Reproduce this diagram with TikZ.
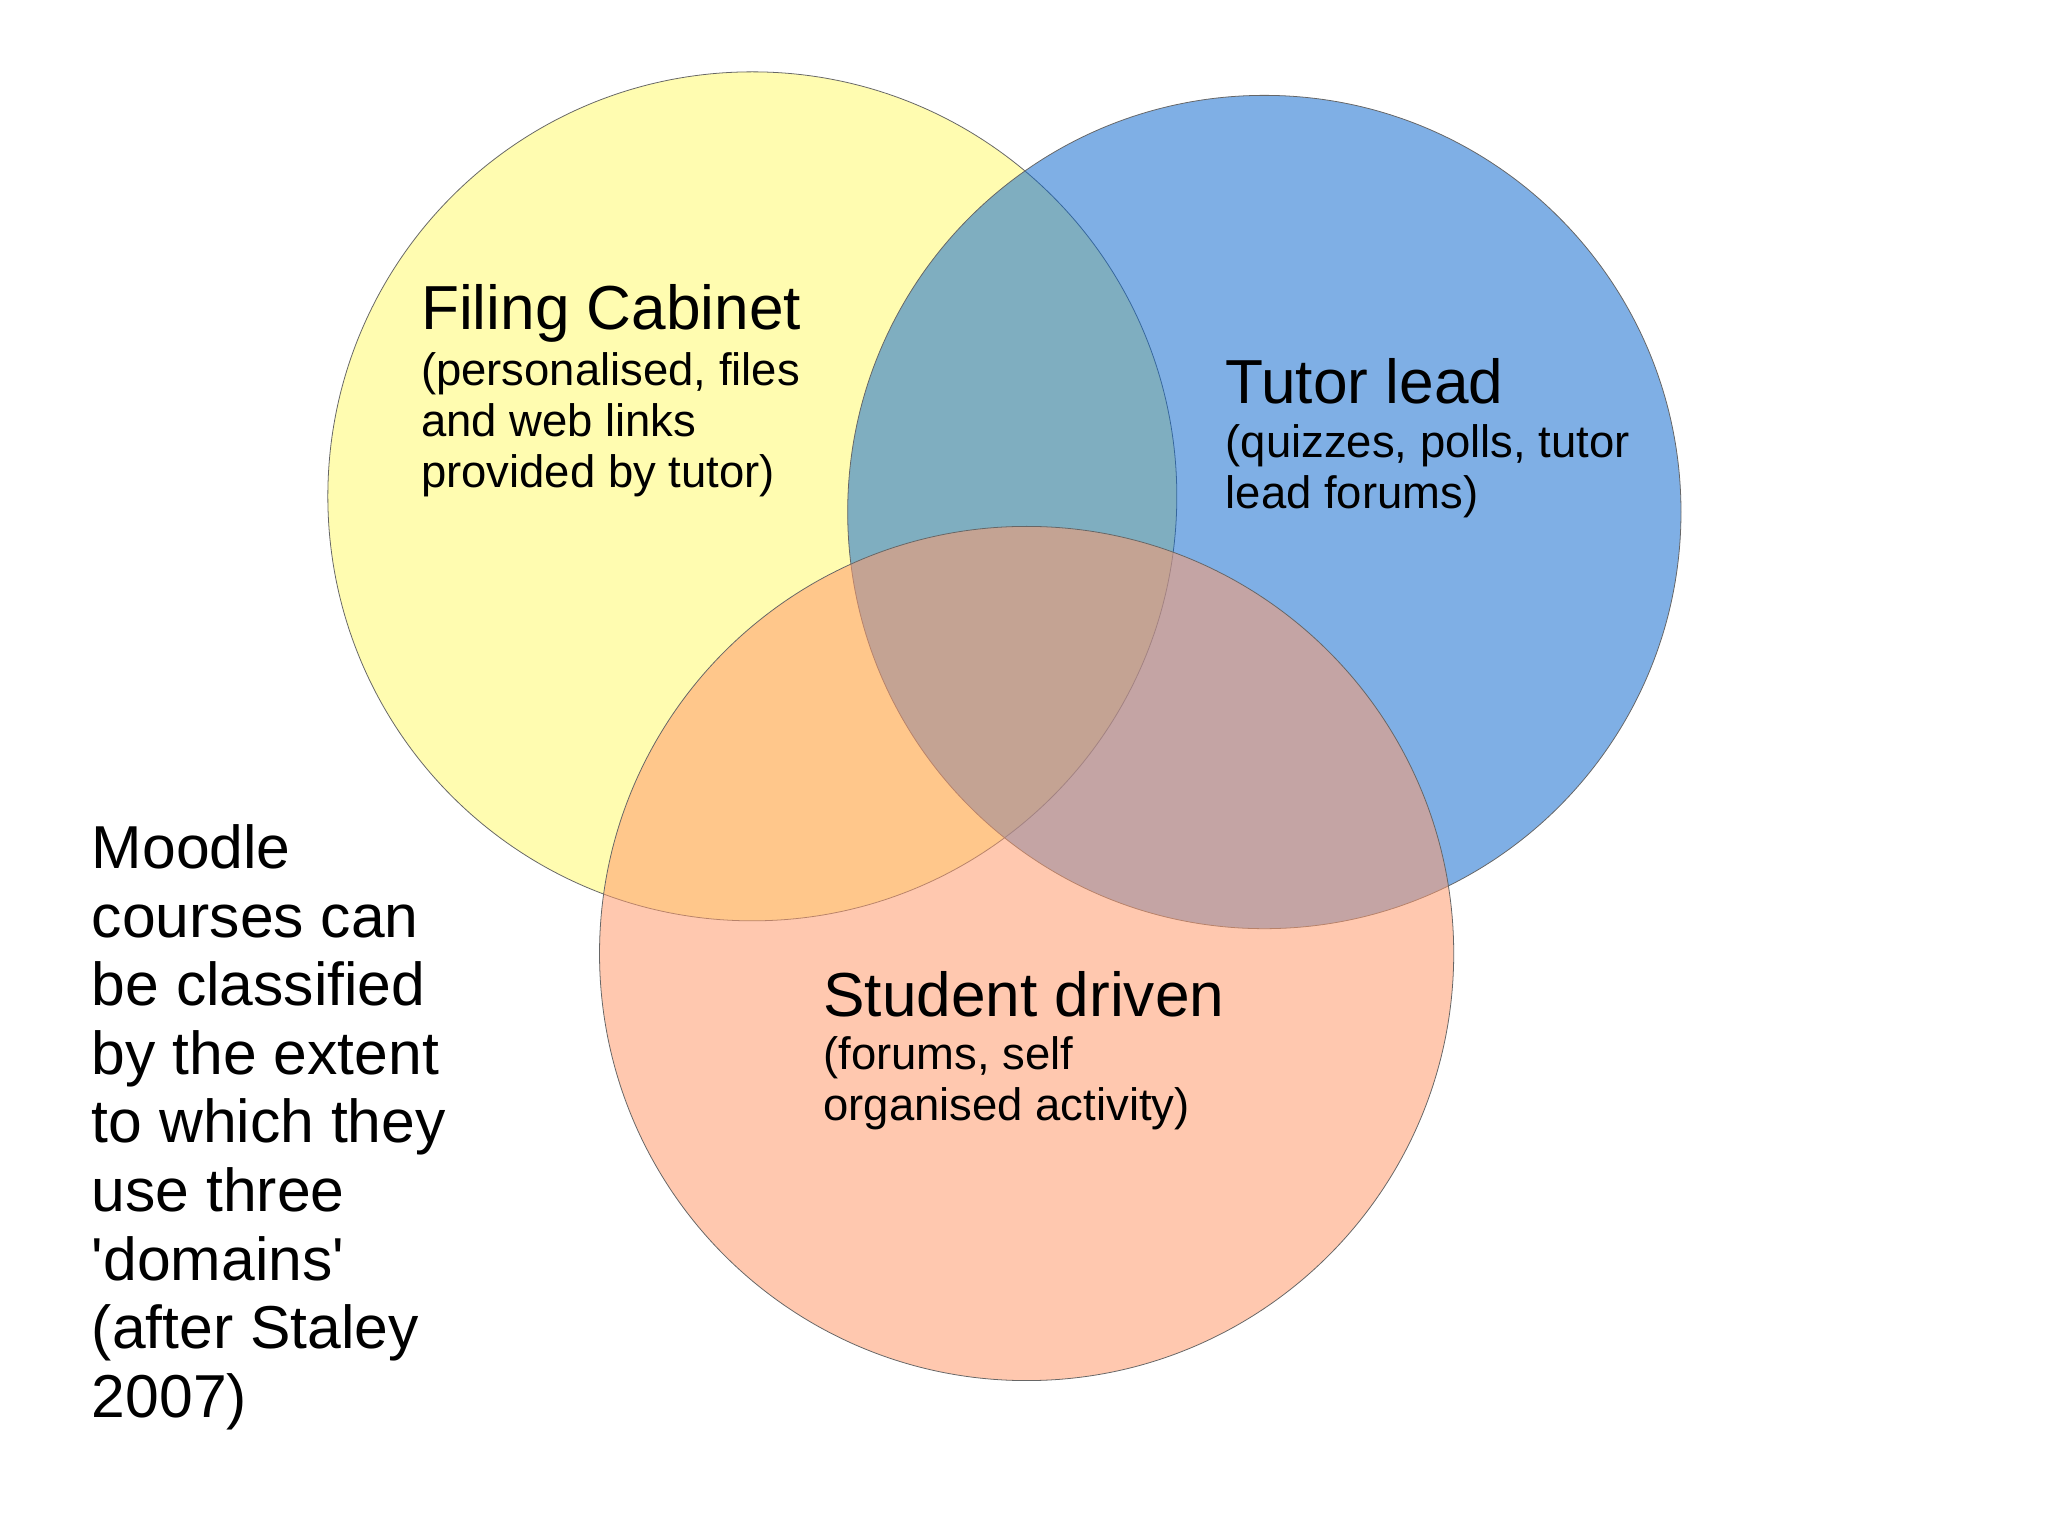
\documentclass[tikz,border=0pt]{standalone}
\usepackage{fontspec}
\setmainfont{Liberation Sans}
\definecolor{cabinet}{RGB}{255,252,176}
\definecolor{tutor}{RGB}{11,103,207}
\definecolor{student}{RGB}{255,155,109}
\tikzset{
  set/.style={draw=black!60, line width=0.3pt},
  head/.style={anchor=base west, inner sep=0pt, font=\fontsize{23.8}{26}\selectfont},
  sub/.style={anchor=base west, inner sep=0pt, align=left, font=\fontsize{17.4}{19.5}\selectfont},
  note/.style={anchor=base west, inner sep=0pt, align=left, font=\fontsize{23.2}{26.25}\selectfont}
}
\begin{document}
\begin{tikzpicture}[x=0.5pt, y=-0.5pt]
        \useasboundingbox (0,0) rectangle (1568,1175);
        \fill[white] (0,0) rectangle (1568,1175);

        \filldraw[set, fill=cabinet] (576,380) circle (325*0.5pt);
        \filldraw[set, fill=tutor, fill opacity=0.52] (968,392) circle (319*0.5pt);
        \filldraw[set, fill=student, fill opacity=0.54] (786,730) circle (327*0.5pt);

        % multi-line nodes sit on their last baseline
        \node[head] (fc) at (322,252) {Filing Cabinet};
        \node[sub] (fcsub) at (322,373) {(personalised, files\\and web links\\provided by tutor)};

        \node[head] (tl) at (938,309) {Tutor lead};
        \node[sub] (tlsub) at (938,389) {(quizzes, polls, tutor\\lead forums)};

        \node[head] (sd) at (630,778) {Student driven};
        \node[sub] (sdsub) at (630,858) {(forums, self\\organised activity)};

        \node[note] (moodle) at (70,1085) {Moodle\\courses can\\be classified\\by the extent\\to which they\\use three\\\textquotesingle domains\textquotesingle\\(after Staley\\2007)};
      \end{tikzpicture}
\end{document}
